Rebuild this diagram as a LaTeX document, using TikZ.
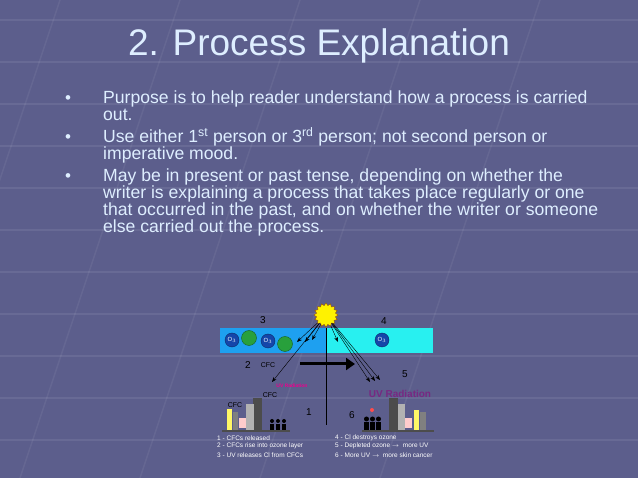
\documentclass[tikz,border=0pt]{standalone}
\usepackage{fontspec}
\setmainfont{Liberation Sans}
\usetikzlibrary{arrows.meta,shapes.geometric}
\definecolor{bg}{RGB}{92,94,140}
\definecolor{txt}{RGB}{222,238,255}
\definecolor{band}{RGB}{30,160,240}
\definecolor{bandr}{RGB}{40,240,240}
\definecolor{ozone}{RGB}{20,70,170}
\definecolor{grn}{RGB}{40,160,60}
\definecolor{uvc}{RGB}{120,40,130}
\tikzset{
  line/.style={anchor=base west,font=\fontsize{17.6}{17.6}\selectfont,text=txt,inner sep=0},
  bul/.style={anchor=base,font=\fontsize{17}{17}\selectfont,text=txt,inner sep=0},
  o3/.style={circle,fill=ozone,draw=ozone!60!black,minimum size=14pt,inner sep=0,font=\fontsize{6}{6}\selectfont,text=white},
  gr/.style={circle,fill=grn,draw=grn!60!black,minimum size=15pt,inner sep=0},
  num/.style={font=\fontsize{10}{10}\selectfont\rmfamily,text=black,inner sep=0},
  small/.style={font=\fontsize{7}{7}\selectfont,text=black,inner sep=0},
  leg/.style={font=\fontsize{6.5}{6.5}\selectfont,text=white,anchor=west,inner sep=0},
  ray/.style={black,thin,-{Stealth[length=5pt]}},
}
\begin{document}
\begin{tikzpicture}[x=1pt,y=-1pt]
\fill[bg] (0,0) rectangle (638,478);
\useasboundingbox (0,0) rectangle (638,478);
\foreach \y in {20,62,104,146,188,230,272,314,356,398,440}
  \draw[white,opacity=0.08,line width=1.5pt] (0,\y) -- (638,\y);
\foreach \x in {60,180,300,420,540}
  \draw[white,opacity=0.06,line width=1.5pt] (\x,0) -- (\x-160,478);
\node[anchor=base,font=\fontsize{37}{37}\selectfont,text=txt,inner sep=0] (title) at (319,56) {2. Process Explanation};
\foreach \y/\n in {104/b1,143/b2,182/b3}
  \node[bul] (\n) at (68,\y) {•};
\node[line] (l1) at (103,104) {Purpose is to help reader understand how a process is carried};
\node[line] (l2) at (103,121) {out.};
\node[line] (l3) at (103,143) {Use either 1\textsuperscript{st} person or 3\textsuperscript{rd} person; not second person or};
\node[line] (l4) at (103,160) {imperative mood.};
\node[line] (l5) at (103,182) {May be in present or past tense, depending on whether the};
\node[line] (l6) at (103,199) {writer is explaining a process that takes place regularly or one};
\node[line] (l7) at (103,216) {that occurred in the past, and on whether the writer or someone};
\node[line] (l8) at (103,233) {else carried out the process.};
% diagram
\fill[band] (220,328) rectangle (326,353);
\fill[bandr] (326,328) rectangle (433,353);
\draw[black] (326,328) -- (326,425);
\node[star,star points=16,star point ratio=1.25,fill=yellow,draw=orange!60!black,minimum size=24pt,inner sep=0] (sun) at (326,315) {};
\node[num] (n3) at (263,320) {3};
\node[num] (n4) at (384,321) {4};
\node[o3] (oa) at (232,340) {O$_3$};
\node[gr] (ga) at (249,338) {};
\node[o3] (ob) at (268,341) {O$_3$};
\node[gr] (gb) at (285,344) {};
\node[o3] (oc) at (382,340) {O$_3$};
\coordinate (r1) at (272,382);
\coordinate (r2) at (297,342);
\coordinate (r3) at (305,342);
\coordinate (r4) at (312,340);
\coordinate (r5) at (338,342);
\coordinate (r6) at (370,382);
\coordinate (r7) at (375,381);
\coordinate (r8) at (380,380);
\foreach \c in {r1,r2,r3,r4,r5,r6,r7,r8} \draw[ray] (sun) -- (\c);
\coordinate (aa) at (300,364);
\coordinate (ab) at (355,364);
\draw[black,line width=3pt,-{Triangle[length=9pt,width=12pt]}] (aa) -- (ab);
\node[num] (n2) at (248,365) {2};
\node[small] (cfc1) at (268,365) {CFC};
\node[small] (cfc2) at (270,395) {CFC};
\node[font=\fontsize{5}{5}\selectfont\bfseries,text=magenta,inner sep=0] (uvs) at (292,386) {UV Radiation};
\node[font=\fontsize{10}{10}\selectfont\bfseries,text=uvc,inner sep=0] (uvb) at (400,394) {UV Radiation};
\node[num] (n5) at (405,374) {5};
\node[small] (cfc3) at (235,405) {CFC};
\node[num] (n1) at (309,412) {1};
\node[num] (n6) at (352,415) {6};
\fill[black!70] (222,430) rectangle (290,432);
\fill[yellow!60!white] (227,409) rectangle (232,430);
\fill[black!50] (233,412) rectangle (238,430);
\fill[pink!80] (239,418) rectangle (246,428);
\fill[black!70] (253,398) rectangle (262,430);
\fill[gray!60] (246,404) rectangle (254,430);
\foreach \x in {270,276,282} {\fill[black] (\x,424) rectangle (\x+4,430); \fill[black] (\x+2,421) circle (2);}
\fill[black!70] (362,430) rectangle (434,432);
\foreach \x in {364,370,376} {\fill[black] (\x,422) rectangle (\x+5,430); \fill[black] (\x+2.5,419) circle (2.5);}
\fill[red!70] (372,410) circle (2);
\fill[black!70] (389,398) rectangle (398,430);
\fill[gray!60] (398,404) rectangle (405,430);
\fill[pink!80] (405,418) rectangle (412,428);
\fill[yellow!60!white] (414,410) rectangle (419,430);
\fill[black!50] (420,412) rectangle (426,430);
\node[leg] (la) at (217,438) {1 - CFCs released};
\node[leg] (lb) at (217,446) {2 - CFCs rise into ozone layer};
\node[leg] (lc) at (217,455) {3 - UV releases Cl from CFCs};
\node[leg] (ld) at (335,438) {4 - Cl destroys ozone};
\node[leg] (le) at (335,446) {5 - Depleted ozone $\to$ \ more UV};
\node[leg] (lf) at (335,455) {6 - More UV $\to$ \ more skin cancer};
\end{tikzpicture}
\end{document}
